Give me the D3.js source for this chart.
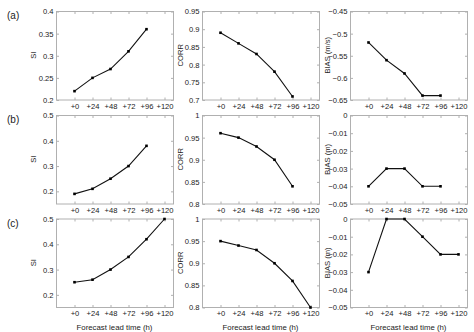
<!DOCTYPE html>
<html>
<head>
<meta charset="utf-8">
<script src="https://cdn.jsdelivr.net/npm/d3@7"></script>
<style>
  html, body { margin: 0; padding: 0; background: #fff; }
  svg text { font-family: "Liberation Sans", Arial, sans-serif; fill: #222; }
</style>
</head>
<body>
<svg id="chart" width="474" height="332"></svg>
<script>
// Forecast lead times (h) and their axis labels
const leadTimes = [0, 24, 48, 72, 96, 120];
const leadLabels = ["+0", "+24", "+48", "+72", "+96", "+120"];

// Row labels
const rowTags = ["(a)", "(b)", "(c)"];

// Scatter index per row
const siA = [0.22, 0.25, 0.27, 0.31, 0.36];
const siB = [0.19, 0.21, 0.25, 0.30, 0.38];
const siC = [0.25, 0.26, 0.30, 0.35, 0.42, 0.50];

// Correlation per row
const corrA = [0.89, 0.86, 0.83, 0.78, 0.71];
const corrB = [0.96, 0.95, 0.93, 0.90, 0.84];
const corrC = [0.95, 0.94, 0.93, 0.90, 0.86, 0.80];

// Bias per row
const biasA = [-0.52, -0.56, -0.59, -0.64, -0.64];
const biasB = [-0.04, -0.03, -0.03, -0.04, -0.04];
const biasC = [-0.03, 0.00, 0.00, -0.01, -0.02, -0.02];

// Y tick values per panel
const siTicksA = [0.2, 0.25, 0.3, 0.35, 0.4];
const siTicksBC = [0.2, 0.3, 0.4, 0.5];
const corrTicksA = [0.7, 0.75, 0.8, 0.85, 0.9, 0.95];
const corrTicksBC = [0.8, 0.85, 0.9, 0.95, 1];
const biasTicksA = [-0.65, -0.6, -0.55, -0.5, -0.45];
const biasTicksBC = [-0.05, -0.04, -0.03, -0.02, -0.01, 0];

const panels = [
  // row 0
  {row: 0, col: 0, values: siA, dom: [0.2, 0.4], ticks: siTicksA, ylab: "SI"},
  {row: 0, col: 1, values: corrA, dom: [0.7, 0.95], ticks: corrTicksA, ylab: "CORR"},
  {row: 0, col: 2, values: biasA, dom: [-0.65, -0.45], ticks: biasTicksA, ylab: "BIAS (m/s)"},
  // row 1
  {row: 1, col: 0, values: siB, dom: [0.15, 0.5], ticks: siTicksBC, ylab: "SI"},
  {row: 1, col: 1, values: corrB, dom: [0.8, 1], ticks: corrTicksBC, ylab: "CORR"},
  {row: 1, col: 2, values: biasB, dom: [-0.05, 0], ticks: biasTicksBC, ylab: "BIAS (m)"},
  // row 2
  {row: 2, col: 0, values: siC, dom: [0.15, 0.5], ticks: siTicksBC, ylab: "SI"},
  {row: 2, col: 1, values: corrC, dom: [0.8, 1], ticks: corrTicksBC, ylab: "CORR"},
  {row: 2, col: 2, values: biasC, dom: [-0.05, 0], ticks: biasTicksBC, ylab: "BIAS (m)"}
];

const colLeft = [56, 202, 350];
const rowTop = [11, 115, 218.5];
const pw = 117, ph = 88.5;

const svg = d3.select("#chart");
const frameColor = "#b0b0b0";
const tickFont = 7.6;

// Format y tick values without trailing zeros
const fmt = v => {
  const s = d3.format(".2f")(v).replace(/\.?0+$/, "");
  return s === "-0" ? "0" : s;
};

panels.forEach(p => {
  const g = svg.append("g").attr("transform", `translate(${colLeft[p.col]},${rowTop[p.row]})`);
  const x = d3.scaleLinear().domain([-24, 132]).range([0, pw]);
  const y = d3.scaleLinear().domain(p.dom).range([ph, 0]);

  // frame
  g.append("rect").attr("x", 0.5).attr("y", 0.5).attr("width", pw).attr("height", ph)
    .attr("fill", "none").attr("stroke", frameColor).attr("stroke-width", 1);

  // bottom axis (labels) + inward ticks
  const xb = d3.axisBottom(x).tickValues(leadTimes)
    .tickFormat((d, i) => leadLabels[i]).tickSizeInner(-2.5).tickSizeOuter(0).tickPadding(3.5);
  const gx = g.append("g").attr("transform", `translate(0.5,${ph + 0.5})`).call(xb);
  gx.select(".domain").remove();
  gx.selectAll("line").attr("stroke", frameColor);
  gx.selectAll("text").attr("font-size", tickFont).attr("fill", "#222");

  // top inward ticks
  const gxt = g.append("g").attr("transform", "translate(0.5,0.5)")
    .call(d3.axisTop(x).tickValues(leadTimes).tickFormat("").tickSizeInner(-2.5).tickSizeOuter(0));
  gxt.select(".domain").remove();
  gxt.selectAll("line").attr("stroke", frameColor);

  // left axis
  const yl = d3.axisLeft(y).tickValues(p.ticks).tickFormat(fmt)
    .tickSizeInner(-2.5).tickSizeOuter(0).tickPadding(3);
  const gy = g.append("g").attr("transform", "translate(0.5,0.5)").call(yl);
  gy.select(".domain").remove();
  gy.selectAll("line").attr("stroke", frameColor);
  gy.selectAll("text").attr("font-size", tickFont).attr("fill", "#222");

  // right inward ticks
  const gyr = g.append("g").attr("transform", `translate(${pw + 0.5},0.5)`)
    .call(d3.axisRight(y).tickValues(p.ticks).tickFormat("").tickSizeInner(-2.5).tickSizeOuter(0));
  gyr.select(".domain").remove();
  gyr.selectAll("line").attr("stroke", frameColor);

  // y label
  const labX = p.col === 1 ? -19 : -20;
  g.append("text")
    .attr("transform", `translate(${labX},${ph / 2}) rotate(-90)`)
    .attr("text-anchor", "middle")
    .attr("font-size", tickFont)
    .text(p.ylab);

  // line + markers
  const pts = p.values.map((v, i) => [leadTimes[i], v]);
  g.append("path")
    .attr("d", d3.line().x(d => x(d[0]) + 0.5).y(d => y(d[1]) + 0.5)(pts))
    .attr("fill", "none").attr("stroke", "#111").attr("stroke-width", 1.1);
  g.selectAll("rect.pt").data(pts).enter().append("rect").attr("class", "pt")
    .attr("x", d => x(d[0]) - 0.8).attr("y", d => y(d[1]) - 0.8)
    .attr("width", 2.6).attr("height", 2.6).attr("fill", "#000");

  // x label on bottom row
  if (p.row === 2) {
    g.append("text").attr("x", pw / 2).attr("y", ph + 22.5)
      .attr("text-anchor", "middle").attr("font-size", 7.8)
      .text("Forecast lead time (h)");
  }
});

// row tags
rowTags.forEach((t, i) => {
  svg.append("text").attr("x", 7).attr("y", rowTop[i] + 8)
    .attr("font-size", 10).text(t);
});
</script>
</body>
</html>
